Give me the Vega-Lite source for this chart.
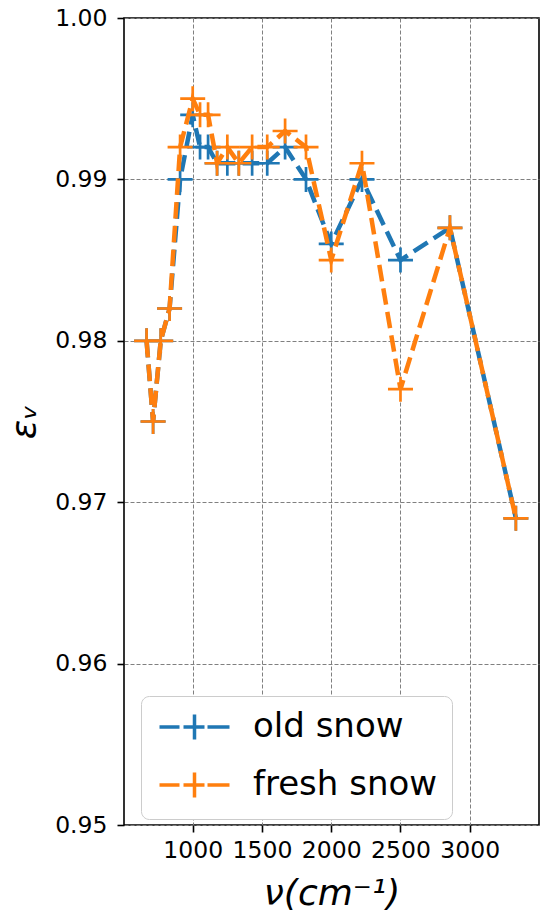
{
  "$schema": "https://vega.github.io/schema/vega-lite/v6.json",
  "width": 415,
  "height": 807,
  "autosize": {"type": "none"},
  "padding": {"left": 124, "top": 18, "right": 11, "bottom": 97},
  "background": "white",
  "view": {"stroke": "black", "strokeWidth": 1.6},
  "config": {
    "font": "DejaVu Sans",
    "axis": {
      "grid": true,
      "gridColor": "#808080",
      "gridDash": [4, 2],
      "gridWidth": 1,
      "domain": false,
      "tickColor": "black",
      "tickSize": 7,
      "tickWidth": 1.6,
      "labelColor": "black",
      "labelFontSize": 23.5,
      "titleColor": "black",
      "titleFontWeight": "normal",
      "titleFontStyle": "italic",
      "titleFontSize": 36
    }
  },
  "data": {
    "values": [
      {"nu": 667, "eps": 0.980, "snow": "old snow"},
      {"nu": 714, "eps": 0.975, "snow": "old snow"},
      {"nu": 769, "eps": 0.980, "snow": "old snow"},
      {"nu": 833, "eps": 0.982, "snow": "old snow"},
      {"nu": 909, "eps": 0.990, "snow": "old snow"},
      {"nu": 1000, "eps": 0.994, "snow": "old snow"},
      {"nu": 1053, "eps": 0.992, "snow": "old snow"},
      {"nu": 1111, "eps": 0.992, "snow": "old snow"},
      {"nu": 1176, "eps": 0.991, "snow": "old snow"},
      {"nu": 1250, "eps": 0.991, "snow": "old snow"},
      {"nu": 1333, "eps": 0.991, "snow": "old snow"},
      {"nu": 1429, "eps": 0.991, "snow": "old snow"},
      {"nu": 1538, "eps": 0.991, "snow": "old snow"},
      {"nu": 1667, "eps": 0.992, "snow": "old snow"},
      {"nu": 1818, "eps": 0.990, "snow": "old snow"},
      {"nu": 2000, "eps": 0.986, "snow": "old snow"},
      {"nu": 2222, "eps": 0.990, "snow": "old snow"},
      {"nu": 2500, "eps": 0.985, "snow": "old snow"},
      {"nu": 2857, "eps": 0.987, "snow": "old snow"},
      {"nu": 3333, "eps": 0.969, "snow": "old snow"},
      {"nu": 667, "eps": 0.980, "snow": "fresh snow"},
      {"nu": 714, "eps": 0.975, "snow": "fresh snow"},
      {"nu": 769, "eps": 0.980, "snow": "fresh snow"},
      {"nu": 833, "eps": 0.982, "snow": "fresh snow"},
      {"nu": 909, "eps": 0.992, "snow": "fresh snow"},
      {"nu": 1000, "eps": 0.995, "snow": "fresh snow"},
      {"nu": 1053, "eps": 0.994, "snow": "fresh snow"},
      {"nu": 1111, "eps": 0.994, "snow": "fresh snow"},
      {"nu": 1176, "eps": 0.991, "snow": "fresh snow"},
      {"nu": 1250, "eps": 0.992, "snow": "fresh snow"},
      {"nu": 1333, "eps": 0.991, "snow": "fresh snow"},
      {"nu": 1429, "eps": 0.992, "snow": "fresh snow"},
      {"nu": 1538, "eps": 0.992, "snow": "fresh snow"},
      {"nu": 1667, "eps": 0.993, "snow": "fresh snow"},
      {"nu": 1818, "eps": 0.992, "snow": "fresh snow"},
      {"nu": 2000, "eps": 0.985, "snow": "fresh snow"},
      {"nu": 2222, "eps": 0.991, "snow": "fresh snow"},
      {"nu": 2500, "eps": 0.977, "snow": "fresh snow"},
      {"nu": 2857, "eps": 0.987, "snow": "fresh snow"},
      {"nu": 3333, "eps": 0.969, "snow": "fresh snow"}
    ]
  },
  "encoding": {
    "x": {
      "field": "nu",
      "type": "quantitative",
      "scale": {"domain": [504, 3500], "nice": false, "zero": false},
      "axis": {"values": [1000, 1500, 2000, 2500, 3000], "format": "d", "labelPadding": 6, "title": "ν(cm⁻¹)", "titlePadding": 15}
    },
    "y": {
      "field": "eps",
      "type": "quantitative",
      "scale": {"domain": [0.95, 1.0], "nice": false, "zero": false},
      "axis": {"values": [0.95, 0.96, 0.97, 0.98, 0.99, 1.0], "format": ".2f", "labelPadding": 10, "title": "εᵥ", "titlePadding": 11}
    },
    "color": {
      "field": "snow",
      "type": "nominal",
      "scale": {"domain": ["old snow", "fresh snow"], "range": ["#1f77b4", "#ff7f0e"]},
      "legend": {
        "title": null,
        "orient": "none",
        "legendX": 17,
        "legendY": 678,
        "fillColor": "white",
        "strokeColor": "#cccccc",
        "cornerRadius": 8,
        "padding": 14,
        "labelFontSize": 34,
        "labelColor": "black",
        "labelLimit": 0,
        "labelOffset": 64,
        "rowPadding": 18,
        "symbolType": "M-1,0L0.6,0M0.92,0L2.6,0M2.84,0L4.6,0M1.8,-1L1.8,1",
        "symbolSize": 625,
        "symbolStrokeWidth": 3.5,
        "symbolFillColor": "transparent"
      }
    }
  },
  "layer": [
    {
      "transform": [{"filter": "datum.snow === 'old snow'"}],
      "mark": {"type": "line", "strokeWidth": 4.5, "strokeDash": [16.6, 7.2]}
    },
    {
      "transform": [{"filter": "datum.snow === 'old snow'"}],
      "mark": {"type": "point", "shape": "M-1,0L1,0M0,-1L0,1", "size": 625, "filled": false, "strokeWidth": 2.7, "opacity": 1}
    },
    {
      "transform": [{"filter": "datum.snow === 'fresh snow'"}],
      "mark": {"type": "line", "strokeWidth": 4.5, "strokeDash": [16.6, 7.2]}
    },
    {
      "transform": [{"filter": "datum.snow === 'fresh snow'"}],
      "mark": {"type": "point", "shape": "M-1,0L1,0M0,-1L0,1", "size": 625, "filled": false, "strokeWidth": 2.7, "opacity": 1}
    }
  ]
}
